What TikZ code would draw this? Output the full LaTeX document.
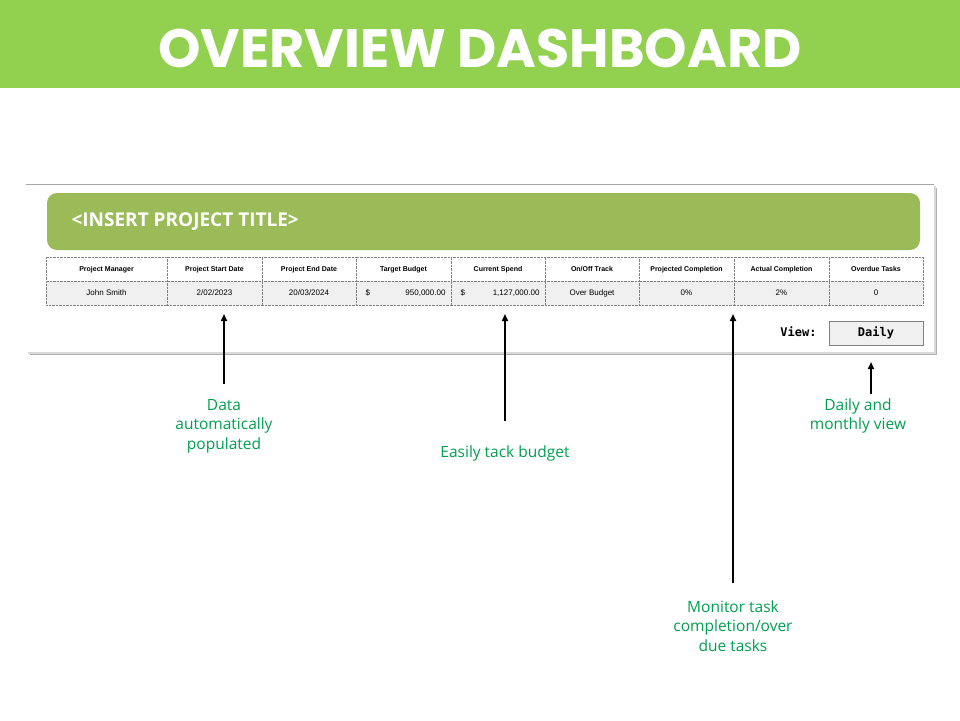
\documentclass[tikz,border=0pt]{standalone}
\usepackage{fontspec}
\setmainfont{Open Sans}
\newfontfamily\titlefont{Poppins}[UprightFont=* Bold]
\newfontfamily\tabfont{Liberation Sans}
\setmonofont{DejaVu Sans Mono}
\usetikzlibrary{arrows.meta}
\definecolor{banner}{HTML}{92D050}
\definecolor{ptitle}{HTML}{9BBB59}
\definecolor{lbl}{HTML}{00A050}
\definecolor{rowgray}{HTML}{F0F0F0}
\tikzset{
  cell/.style={draw=gray, densely dotted, minimum height=24pt, inner sep=0pt, text height=6pt, text depth=1.5pt, font=\tabfont\fontsize{8}{9}\selectfont},
  hcell/.style={cell, fill=white, font=\tabfont\bfseries\fontsize{7}{8}\selectfont},
  dcell/.style={cell, fill=rowgray},
  note/.style={text=lbl, align=center, font=\fontsize{15.5}{19.5}\selectfont},
  ptr/.style={-{Triangle[length=7pt,width=6pt]}, line width=1.6pt}
}
\begin{document}
\begin{tikzpicture}[x=1pt,y=-1pt]
\useasboundingbox (0,0) rectangle (960,720);
\fill[white] (0,0) rectangle (960,720);
\fill[banner] (0,0) rectangle (960,88);
\node[text=white, font=\titlefont\fontsize{54}{58}\selectfont] (title) at (480,48) {OVERVIEW DASHBOARD};
% panel with shadow
\fill[black!30] (30,188) rectangle (937,355);
\fill[black!15] (28,186) rectangle (936,354);
\fill[white] (26,184) rectangle (934,352);
\draw[gray!70] (26,184) -- (934,184);
\fill[ptitle, rounded corners=10pt] (47,193) rectangle (920,250);
\node[anchor=west, text=white, font=\bfseries\fontsize{19}{22}\selectfont] (ptitle) at (68,222) {<INSERT PROJECT TITLE>};
% table
\foreach \xa/\xb/\h/\d [count=\i] in {46/167/{Project Manager}/{John Smith},167/262/{Project Start Date}/{2/02/2023},262/356/{Project End Date}/{20/03/2024},356/451/{Target Budget}/{},451/545/{Current Spend}/{},545/639/{On/Off Track}/{Over Budget},639/734/{Projected Completion}/{0\%},734/829/{Actual Completion}/{2\%},829/923/{Overdue Tasks}/{0}}{
  \node[hcell, minimum width={\xb-\xa}] (h\i) at ({(\xa+\xb)/2},269) {\h};
  \node[dcell, minimum width={\xb-\xa}] (d\i) at ({(\xa+\xb)/2},293) {\d};
}
\node[anchor=west, font=\tabfont\fontsize{8}{9}\selectfont] (s4) at (362,293) {\$};
\node[anchor=east, font=\tabfont\fontsize{8}{9}\selectfont] (v4) at (449,293) {950,000.00};
\node[anchor=west, font=\tabfont\fontsize{8}{9}\selectfont] (s5) at (457,293) {\$};
\node[anchor=east, font=\tabfont\fontsize{8}{9}\selectfont] (v5) at (543,293) {1,127,000.00};
% view
\node[anchor=east, font=\ttfamily\bfseries\fontsize{12}{14}\selectfont] (viewl) at (820,332) {View:};
\node[draw=gray, fill=rowgray, minimum width=94pt, minimum height=24pt, font=\ttfamily\bfseries\fontsize{12}{14}\selectfont] (view) at (876,333) {Daily};
% notes
\node[note] (n1) at (224,426) {Data\\automatically\\populated};
\node[note] (n2) at (505,453) {Easily tack budget};
\node[note] (n3) at (733,626) {Monitor task\\completion/over\\due tasks};
\node[note] (n4) at (858,416) {Daily and\\monthly view};
\coordinate (t1) at (224,314); \coordinate (t2) at (505,314);
\coordinate (t3) at (733,314); \coordinate (t4) at (871,362);
\draw[ptr] (224,384) -- (t1);
\draw[ptr] (505,421) -- (t2);
\draw[ptr] (733,583) -- (t3);
\draw[ptr] (871,394) -- (t4);
\end{tikzpicture}
\end{document}
